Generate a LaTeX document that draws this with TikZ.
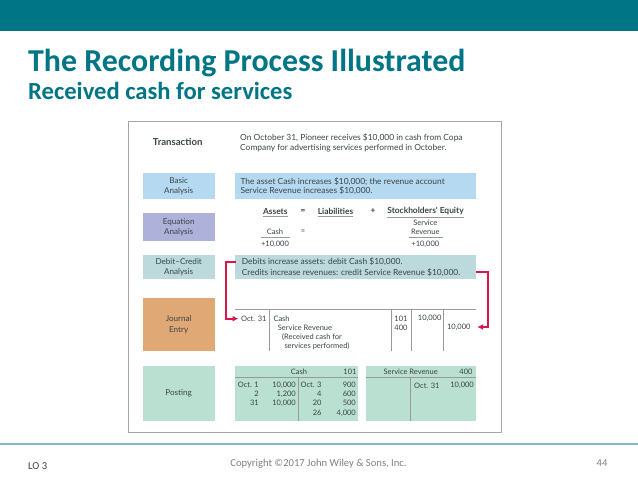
\documentclass[tikz,border=0pt]{standalone}
\usepackage{fontspec}
\setmainfont{Carlito}
\newfontfamily\bookfont{Lato}
\definecolor{wileyteal}{HTML}{007585}
\definecolor{footline}{HTML}{7FB9C4}
\definecolor{bookblue}{HTML}{B5D9F0}
\definecolor{booklav}{HTML}{AEB2DA}
\definecolor{bookcyan}{HTML}{BCD9DC}
\definecolor{bookorange}{HTML}{E0A875}
\definecolor{bookgreen}{HTML}{B9E0D0}
\definecolor{bookred}{HTML}{D9174A}
\definecolor{booktext}{HTML}{3A4446}
\usetikzlibrary{arrows.meta}
\tikzset{
  box/.style={fill=#1, inner sep=0pt, anchor=north west, font=\bookfont\fontsize{8.1}{10.4}\selectfont, text=booktext, align=center},
  txt/.style={inner sep=0pt, text=booktext, font=\bookfont\fontsize{7.5}{9.2}\selectfont},
  ltxt/.style={txt, anchor=west},
  head/.style={txt, font=\bookfont\bfseries\fontsize{8.4}{9}\selectfont, inner ysep=2pt},
  rulegray/.style={draw=black!40, line width=0.6pt},
  redline/.style={draw=bookred, line width=1.7pt},
  redarrow/.style={redline, -{Latex[length=6pt,width=6pt]}}
}
\begin{document}
\begin{tikzpicture}[x=1pt, y=-1pt]
\useasboundingbox (0,0) rectangle (638,478);
\fill[wileyteal] (0,0) rectangle (638,31.5);
\draw[footline, line width=2pt] (0,444) -- (638,444);
\draw[black!35, line width=0.8pt, fill=white] (128.6,121.5) rectangle (501,432.5);

\node[inner sep=0pt, anchor=base west, text=wileyteal, font=\bfseries\fontsize{31.9}{34}\selectfont] (title) at (28,71.6) {The Recording Process Illustrated};
\node[inner sep=0pt, anchor=base west, text=wileyteal, font=\bfseries\fontsize{24.6}{26}\selectfont] (subtitle) at (28,100) {Received cash for services};

% left column
\node[txt, font=\bookfont\bfseries\fontsize{9.6}{10}\selectfont] (transaction) at (177.7,142) {Transaction};
\node[box=bookblue, minimum width=71.6pt, minimum height=25.7pt] (basic) at (142.7,173.3) {Basic\\Analysis};
\node[box=booklav, minimum width=71.6pt, minimum height=28.3pt] (equation) at (142.7,212.7) {Equation\\Analysis};
\node[box=bookcyan, minimum width=71.6pt, minimum height=24.6pt] (debit) at (142.7,254.7) {Debit–Credit\\Analysis};
\node[box=bookorange, minimum width=71.6pt, minimum height=53pt] (journal) at (142.7,298) {Journal\\Entry};
\node[box=bookgreen, minimum width=71.6pt, minimum height=55pt] (posting) at (142.7,365.7) {Posting};

% right column
\node[ltxt, align=left, font=\bookfont\fontsize{8.4}{10}\selectfont] (transtext) at (240,142.7) {On October 31, Pioneer receives \$10,000 in cash from Copa\\Company for advertising services performed in October.};
\node[box=bookblue, minimum width=240.7pt, minimum height=25.7pt] (basicbox) at (235,173.3) {};
\node[ltxt, align=left, font=\bookfont\fontsize{8.4}{9.6}\selectfont] (basictext) at (240.3,186) {The asset Cash increases \$10,000; the revenue account\\Service Revenue increases \$10,000.};

\node[head] (assets) at (275.3,211.2) {Assets};
\node[head] (eqa) at (303,211.2) {=};
\node[head] (liab) at (335.5,211.2) {Liabilities};
\node[head] (plus) at (373,211.2) {+};
\node[head] (equity) at (425.5,211.2) {Stockholders' Equity};
\draw[rulegray] (assets.south west) -- (assets.south east);
\draw[rulegray] (liab.south west) -- (liab.south east);
\draw[rulegray] (equity.south west) -- (equity.south east);
\node[txt] (eqcash) at (275,231.7) {Cash};
\node[txt] (eqb) at (303,231.7) {=};
\node[txt, align=center, font=\bookfont\fontsize{7.5}{9.7}\selectfont] (eqrev) at (425.3,227.2) {Service\\Revenue};
\node[txt] (eqcashamt) at (275,244) {+10,000};
\node[txt] (eqrevamt) at (425.3,244) {+10,000};
\draw[rulegray] (260.7,237.3) -- (290,237.3);
\draw[rulegray] (409,237.3) -- (442.7,237.3);

\node[box=bookcyan, minimum width=240.7pt, minimum height=24.6pt] (debitbox) at (235,254.7) {};
\node[ltxt, font=\bookfont\fontsize{8.4}{10}\selectfont] (debita) at (241.7,262) {Debits increase assets: debit Cash \$10,000.};
\node[ltxt, font=\bookfont\fontsize{8.4}{10}\selectfont] (debitb) at (241.7,272.3) {Credits increase revenues: credit Service Revenue \$10,000.};

% journal entry
\draw[rulegray] (235,309.3) -- (475.7,309.3);
\draw[rulegray] (269.3,309.3) -- (269.3,351);
\draw[rulegray] (391.7,309.3) -- (391.7,351);
\draw[rulegray] (411.3,309.3) -- (411.3,351);
\draw[rulegray] (443.3,309.3) -- (443.3,351);
\node[ltxt] (jdate) at (241,318.7) {Oct. 31};
\node[ltxt] (jcash) at (273.3,318.7) {Cash};
\node[ltxt] (jrev) at (277.7,327.5) {Service Revenue};
\node[ltxt] (jnotea) at (282,336.7) {(Received cash for};
\node[ltxt] (jnoteb) at (284.3,346.7) {services performed)};
\node[txt] (jrefa) at (401,318.7) {101};
\node[txt] (jrefb) at (401,327.5) {400};
\node[txt] (jdebit) at (429.7,318.7) {10,000};
\node[txt] (jcredit) at (458.8,327) {10,000};

\draw[redarrow] ([xshift=-5.7pt]debita.west) -- ++(-10,0) |- ([xshift=-2.5pt]jdate.west);
\draw[redarrow] (debitbox.east |- debitb) -- ++(11.6,0) |- ([xshift=6.4pt]jcredit.east);

% posting
\node[box=bookgreen, minimum width=122.3pt, minimum height=55pt] (cashbox) at (235,365.7) {};
\node[box=bookgreen, minimum width=110pt, minimum height=55pt] (revbox) at (365.7,365.7) {};
\draw[rulegray] (cashbox.west |- 0,377.7) -- (cashbox.east |- 0,377.7);
\draw[rulegray] (revbox.west |- 0,377.7) -- (revbox.east |- 0,377.7);
\draw[rulegray] (298.7,377.7) -- (298.7,420.7);
\draw[rulegray] (410.7,377.7) -- (410.7,420.7);
\node[txt] (pcash) at (299,372) {Cash};
\node[txt] (pcashno) at (350,372) {101};
\node[txt] (prev) at (410.7,372) {Service Revenue};
\node[txt] (prevno) at (466,372) {400};
\node[txt, anchor=north east, align=right] (pdatesa) at (259,381.8) {Oct. 1\\2\\31};
\node[txt, anchor=north east, align=right] (pamtsa) at (296,381.8) {10,000\\1,200\\10,000};
\node[txt, anchor=north east, align=right] (pdatesb) at (321.7,381.8) {Oct. 3\\4\\20\\26};
\node[txt, anchor=north east, align=right] (pamtsb) at (356,381.8) {900\\600\\500\\4,000};
\node[ltxt] (prevdate) at (414,385.5) {Oct. 31};
\node[txt, anchor=east] (prevamt) at (474,385.5) {10,000};

% footer
\node[inner sep=0pt, anchor=base west, text=black!75, font=\fontsize{10.6}{13}\selectfont] (lo) at (28,470) {LO 3};
\node[inner sep=0pt, text=black!50, font=\fontsize{10.6}{13}\selectfont] (copyright) at (318.5,463.5) {Copyright \textcopyright 2017 John Wiley \& Sons, Inc.};
\node[inner sep=0pt, text=black!50, font=\fontsize{10.6}{13}\selectfont] (pageno) at (602,463.5) {44};
\end{tikzpicture}
\end{document}
